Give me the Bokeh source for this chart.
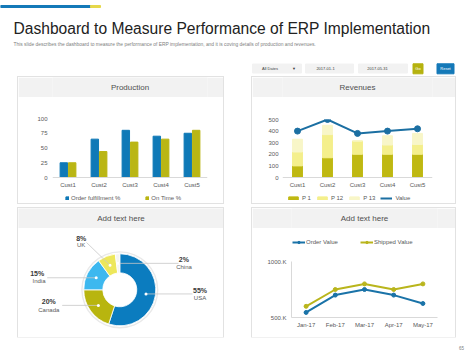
import numpy as np
from bokeh.plotting import figure
from bokeh.layouts import column, row
from bokeh.models import (ColumnDataSource, Range1d, FactorRange, Legend, LegendItem,
                          FixedTicker)
from bokeh.transform import dodge
from bokeh.core.properties import value
from bokeh.embed import file_html
from bokeh.resources import INLINE

FONT = "Liberation Sans"

# ---------------- data ----------------
prod_cats = ["Cust1", "Cust2", "Cust3", "Cust4", "Cust5"]
order_fulfillment = [25, 65, 80, 70, 75]
on_time = [25, 44, 60, 65, 80]
prod_ticks = [0, 25, 50, 75, 100]

rev_cats = ["Cust1", "Cust2", "Cust3", "Cust4", "Cust5"]
rev_p1 = [100, 170, 200, 200, 200]
rev_p12 = [120, 200, 115, 80, 85]
rev_p13 = [110, 80, 0, 80, 95]
rev_value = [400, 500, 380, 400, 420]
rev_ticks = [0, 100, 200, 300, 400, 500]

countries = ["USA", "Canada", "India", "UK", "China"]
shares = [55, 20, 15, 8, 2]
share_labels = ["55%", "20%", "15%", "8%", "2%"]

months = ["Jan-17", "Feb-17", "Mar-17", "Apr-17", "May-17"]
order_value = [545, 700, 750, 700, 625]
shipped_value = [600, 750, 800, 750, 800]
value_ticks = [500, 1000]
value_tick_labels = ["500.K", "1000.K"]

# ---------------- style ----------------
BLUE = "#0f79b7"
OLIVE = "#bab614"
P1C, P12C, P13C = "#bfb812", "#f4ef8c", "#f8f6c8"
VALC = "#1b6fa2"
DONUT_COLORS = ["#0b7cbf", "#b8b50f", "#3db8ef", "#ede75a", "#f5f5ef"]
TXT = "#595959"
BOX = {"box-shadow": "0 0 0 1px #e2e2e2"}


def base_fig(w, h, **kw):
    p = figure(width=w, height=h, output_backend="svg", toolbar_location=None, **kw)
    p.outline_line_color = None
    p.background_fill_color = "white"
    p.border_fill_color = "white"
    p.min_border = 0
    return p


def head(w, h, text):
    p = base_fig(w, h, x_range=Range1d(0, w), y_range=Range1d(0, h),
                 x_axis_type=None, y_axis_type=None)
    p.grid.visible = False
    p.background_fill_color = "#f2f2f2"
    p.border_fill_color = "#f2f2f2"
    p.text(x=[w / 2], y=[h / 2], text=[text], text_align="center", text_baseline="middle",
           text_font=value(FONT), text_font_size="8px", text_color="#505050")
    return p


def style_axes(p, xstand=3, ystand=5, yline=None):
    for ax in p.axis:
        ax.major_tick_line_color = None
        ax.minor_tick_line_color = None
        ax.major_tick_out = 0
        ax.major_tick_in = 0
        ax.major_label_text_font = FONT
        ax.major_label_text_font_size = "6px"
        ax.major_label_text_color = TXT
    p.xaxis.axis_line_color = "#d9d9d9"
    p.yaxis.axis_line_color = yline
    p.xaxis.major_label_standoff = xstand
    p.yaxis.major_label_standoff = ystand
    p.grid.visible = False


def legend(items, loc, spacing, gw, gh, stand):
    return Legend(items=items, location=loc, orientation="horizontal", spacing=spacing,
                  glyph_width=gw, glyph_height=gh, label_standoff=stand,
                  label_text_font=FONT, label_text_font_size="6px", label_text_color=TXT,
                  label_height=6, label_width=0, padding=0, margin=0,
                  border_line_color=None, background_fill_alpha=0)


# ---------------- header ----------------
hdr = base_fig(474, 77, x_range=Range1d(0, 474), y_range=Range1d(77, 0),
               x_axis_type=None, y_axis_type=None)
hdr.grid.visible = False
hdr.quad(left=[0, 90], right=[90, 100], top=[5, 5], bottom=[7, 7],
         color=["#1479b8", "#e6d84a"])
hdr.text(x=[13], y=[28.3], text=["Dashboard to Measure Performance of ERP Implementation"],
         text_font=value(FONT), text_font_size="15.6px", text_color="#222222",
         text_baseline="alphabetic")
hdr.text(x=[13], y=[43.5],
         text=["This slide describes the dashboard to measure the performance of ERP  implementation,  and it is coving details of production and revenues."],
         text_font=value(FONT), text_font_size="4.9px", text_color="#808080",
         text_baseline="middle")
hdr.quad(left=[252, 305, 358], right=[301, 353, 407], top=[63.5] * 3, bottom=[72.5] * 3,
         color="#f2f2f2")
hdr.quad(left=[412.5, 436.5], right=[422.5, 453.5], top=[63.3, 63.3], bottom=[73.3, 73.3],
         color=["#b5b20f", "#1479b8"])
hdr.text(x=[261.5], y=[68], text=["All Dates"], text_font=value(FONT), text_font_size="4px",
         text_color="#404040", text_baseline="middle")
hdr.text(x=[293.5], y=[68], text=["▼"], text_font=value(FONT), text_font_size="4px",
         text_color="#404040", text_baseline="middle", text_align="center")
hdr.text(x=[325, 377], y=[68, 68], text=["2017-01-1", "2017-05-31"], text_font=value(FONT),
         text_font_size="4px", text_color="#404040", text_baseline="middle", text_align="center")
hdr.text(x=[417.5, 445], y=[68.3, 68.3], text=["Go", "Reset"], text_font=value(FONT),
         text_font_size="4px", text_color="white", text_baseline="middle", text_align="center")

# ---------------- production ----------------
# frame reaches the panel bottom; the category axis sits at 0 (59 px for 0..100, 26 px below)
src1 = ColumnDataSource(dict(cats=prod_cats, of=order_fulfillment, ot=on_time))
p1 = base_fig(205, 106, x_range=FactorRange(*prod_cats),
              y_range=Range1d(-100 * 26 / 59, 100))
p1.min_border_left, p1.min_border_right = 34, 16
p1.min_border_top, p1.min_border_bottom = 21, 0
r1 = p1.vbar(x=dodge("cats", -0.135, range=p1.x_range), top="of", width=0.24,
             source=src1, color=BLUE)
r2 = p1.vbar(x=dodge("cats", 0.135, range=p1.x_range), top="ot", width=0.24,
             source=src1, color=OLIVE)
p1.yaxis.ticker = FixedTicker(ticks=prod_ticks)
p1.xaxis.fixed_location = 0
style_axes(p1, xstand=4)
p1.add_layout(legend([LegendItem(label="Order fulfillment %", renderers=[r1]),
                      LegendItem(label="On Time %", renderers=[r2])],
                     (13, 2), 25, 4, 4, 2), "center")

# ---------------- revenues ----------------
src2 = ColumnDataSource(dict(cats=rev_cats, p1=rev_p1, p12=rev_p12, p13=rev_p13, v=rev_value))
p2 = base_fig(203, 106, x_range=FactorRange(*rev_cats),
              y_range=Range1d(-500 * 26 / 58, 500))
p2.min_border_left, p2.min_border_right = 30, 23
p2.min_border_top, p2.min_border_bottom = 22, 0
stk = p2.vbar_stack(["p1", "p12", "p13"], x="cats", width=0.33, color=[P1C, P12C, P13C],
                    source=src2)
lv = p2.line(x="cats", y="v", source=src2, color=VALC, line_width=2)
p2.scatter(x="cats", y="v", source=src2, color=VALC, size=6)
p2.yaxis.ticker = FixedTicker(ticks=rev_ticks)
p2.xaxis.fixed_location = 0
style_axes(p2, xstand=4, ystand=4)
p2.add_layout(legend([LegendItem(label="P 1", renderers=[stk[0]]),
                      LegendItem(label="P 12", renderers=[stk[1]]),
                      LegendItem(label="P 13", renderers=[stk[2]]),
                      LegendItem(label="Value", renderers=[lv])],
                     (5, 2), 5, 12, 4, 3), "center")

# ---------------- donut ----------------
p3 = base_fig(205, 109, x_range=Range1d(0, 205), y_range=Range1d(0, 109),
              x_axis_type=None, y_axis_type=None)
p3.grid.visible = False
cx, cy, r_in, r_out = 101.3, 47.7, 17, 36
fr = np.array(shares, dtype=float) / sum(shares)
cum = np.concatenate([[0.0], np.cumsum(fr)]) * 2 * np.pi
th1, th2 = cum[:-1], cum[1:]
mid = (th1 + th2) / 2
dot_x = cx + (r_in + r_out) / 2 * np.sin(mid)
dot_y = cy + (r_in + r_out) / 2 * np.cos(mid)
src3 = ColumnDataSource(dict(start=np.pi / 2 - th2, end=np.pi / 2 - th1, color=DONUT_COLORS,
                             dx=dot_x, dy=dot_y))
p3.annulus(x=[cx], y=[cy], inner_radius=37.2, outer_radius=38.6, fill_color="#e9e9e9",
           line_color=None)
p3.annular_wedge(x=cx, y=cy, inner_radius=r_in, outer_radius=r_out, start_angle="start",
                 end_angle="end", fill_color="color", line_color="white", line_width=0.8,
                 source=src3)
# label layout (USA, Canada, India, UK, China)
anchor_x = [174, 43.7, 28.7, 68, 160]
anchor_y = [dot_y[0], dot_y[1], dot_y[2], 95, dot_y[4]]
pct_x = [181.5, 30.3, 18.7, 62.7, 165.3]
pct_y = [47, 36, 63.7, 98.7, 77.7]
name_x = [181.5, 30.3, 20.5, 62.7, 165.5]
name_y = [39.3, 28, 57, 92.5, 70.3]
p3.segment(x0=dot_x, y0=dot_y, x1=anchor_x, y1=anchor_y, line_color="#c8c8c8",
           line_width=0.8)
p3.scatter(x=dot_x, y=dot_y, size=3, fill_color="white", line_color=None)
p3.text(x=pct_x, y=pct_y, text=share_labels, text_align="center", text_baseline="middle",
        text_font=value(FONT), text_font_size="7px", text_font_style="bold",
        text_color="#3a3a3a")
p3.text(x=name_x, y=name_y, text=countries, text_align="center", text_baseline="middle",
        text_font=value(FONT), text_font_size="6px", text_color=TXT)

# ---------------- line chart ----------------
# frame starts 8 px under the panel title so the legend fits inside it; 500..1000 spans 56 px
src4 = ColumnDataSource(dict(m=months, o=order_value, s=shipped_value))
p4 = base_fig(203, 109, x_range=FactorRange(*months),
              y_range=Range1d(500, 1000 + 500 * 25 / 56))
p4.min_border_left, p4.min_border_right = 39, 18
p4.min_border_top, p4.min_border_bottom = 8, 20
lo = p4.line(x="m", y="o", source=src4, color="#1a73a8", line_width=2)
so = p4.scatter(x="m", y="o", source=src4, color="#1a73a8", size=4)
ls = p4.line(x="m", y="s", source=src4, color="#b9b51c", line_width=2)
ss = p4.scatter(x="m", y="s", source=src4, color="#b9b51c", size=4)
p4.yaxis.ticker = FixedTicker(ticks=value_ticks)
p4.yaxis.major_label_overrides = dict(zip(value_ticks, value_tick_labels))
p4.yaxis.bounds = (value_ticks[0], value_ticks[-1])
style_axes(p4, xstand=4, ystand=5, yline="#d9d9d9")
p4.add_layout(legend([LegendItem(label="Order Value", renderers=[lo, so]),
                      LegendItem(label="Shipped Value", renderers=[ls, ss])],
                     (1, 72), 22, 13, 6, 1), "center")

# ---------------- footer ----------------
ftr = base_fig(474, 18, x_range=Range1d(0, 474), y_range=Range1d(355, 337),
               x_axis_type=None, y_axis_type=None)
ftr.grid.visible = False
ftr.text(x=[461], y=[347], text=["65"], text_align="center", text_baseline="middle",
         text_font=value(FONT), text_font_size="4.5px", text_color="#808080")

# ---------------- layout ----------------
panel1 = column(head(205, 20, "Production"), p1, spacing=0, styles=BOX)
panel2 = column(head(203, 20, "Revenues"), p2, spacing=0, styles=BOX)
panel3 = column(head(205, 20, "Add text here"), p3, spacing=0, styles=BOX)
panel4 = column(head(203, 20, "Add text here"), p4, spacing=0, styles=BOX)
row1 = row(panel1, panel2, spacing=29, margin=(0, 0, 0, 18))
row2 = row(panel3, panel4, spacing=29, margin=(5, 0, 0, 18))
page = column(hdr, row1, row2, ftr, spacing=0)

open("out.html", "w").write(file_html(page, INLINE))
